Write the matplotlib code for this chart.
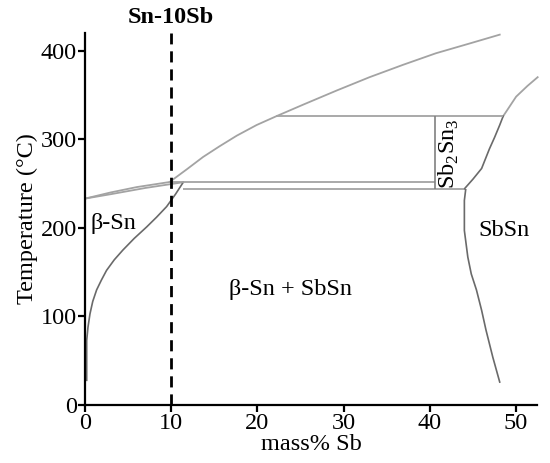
import matplotlib
matplotlib.use('Agg')
import matplotlib.pyplot as plt

plt.rcParams['font.family'] = ['Liberation Serif', 'DejaVu Serif']
plt.rcParams['mathtext.fontset'] = 'custom'
plt.rcParams['mathtext.rm'] = 'Liberation Serif'

# phase boundaries (mass% Sb, temperature in C)
sn_liq_x = [0, 3, 6, 10]
sn_liq_t = [233, 240, 246, 252]
sn_sol_x = [0, 3, 7, 11.4]
sn_sol_t = [233, 238, 245, 251.5]

liq_x = [9.85, 11.8, 13.7, 15.6, 17.6, 19.9, 22.2, 25.3, 29.2, 33.0,
         36.9, 40.7, 44.6, 48.1]
liq_t = [252, 266, 280, 292, 304, 316, 326, 339, 355, 370,
         384, 397, 408, 418]

sb_liq_x = [48.5, 50.0, 51.3, 52.5]
sb_liq_t = [326, 348, 360, 370]

sbsn_top_x = [48.5, 48.1, 47.5, 46.9, 46.0, 45.0, 44.0]
sbsn_top_t = [326, 316, 302, 289, 267, 255, 244]

sbsn_solvus_x = [44.15, 44.0, 44.0, 44.4, 44.8, 45.4, 46.0, 46.5, 47.3, 48.1]
sbsn_solvus_t = [243, 231, 197, 167, 148, 130, 107, 85, 54, 26]

beta_solvus_x = [0.2, 0.2, 0.35, 0.58, 0.9, 1.35, 1.9, 2.5, 3.4, 4.4,
                 5.7, 7.15, 8.3, 9.47, 10.5, 11.4]
beta_solvus_t = [28, 73, 88, 103, 117, 130, 141, 152, 164, 175,
                 188, 201, 212, 224, 238, 251.5]

# isotherms: (temperature, x start, x end)
isotherms = [(252, 9.85, 40.6), (243.5, 11.4, 44.0), (326, 22.2, 48.5)]
sb2sn3_x = 40.6
sb2sn3_t = (243.5, 326)

alloy_x = 10

light = '#a3a3a3'
dark = '#6a6a6a'
fs = 17.5

fig = plt.figure(figsize=(5.5, 4.63), dpi=100)
ax = fig.add_subplot(111)
fig.subplots_adjust(left=0.1545, right=0.976, bottom=0.125, top=0.929)

ax.plot(sn_liq_x, sn_liq_t, color=light, lw=1.3)
ax.plot(sn_sol_x, sn_sol_t, color=light, lw=1.3)
ax.plot(liq_x, liq_t, color=light, lw=1.3)
ax.plot(sb_liq_x, sb_liq_t, color=light, lw=1.3, clip_on=False)
ax.plot(sbsn_top_x, sbsn_top_t, color=dark, lw=1.2)
ax.plot(sbsn_solvus_x, sbsn_solvus_t, color=dark, lw=1.2)
ax.plot(beta_solvus_x, beta_solvus_t, color=dark, lw=1.2)
for t, x0, x1 in isotherms:
    ax.hlines(t, x0, x1, color=light, lw=1.3)
ax.vlines(sb2sn3_x, sb2sn3_t[0], sb2sn3_t[1], color='#808080', lw=1.2)

ax.axvline(alloy_x, color='black', lw=2, ls=(0, (4, 2.5)), clip_on=False)

ax.text(0.6, 205, 'β-Sn', fontsize=fs, va='center', ha='left')
ax.text(23.8, 130, 'β-Sn + SbSn', fontsize=fs, va='center', ha='center')
ax.text(48.6, 197, 'SbSn', fontsize=fs, va='center', ha='center')
ax.text(42.2, 284, 'Sb$_2$Sn$_3$', fontsize=fs, va='center', ha='center',
        rotation=90)
ax.text(alloy_x, 1.012, 'Sn-10Sb', transform=ax.get_xaxis_transform(),
        fontsize=fs, fontweight='bold', ha='center', va='bottom')

ax.set_xlim(0, 52.4)
ax.set_ylim(0, 420)
ax.set_xticks([0, 10, 20, 30, 40, 50])
ax.set_yticks([0, 100, 200, 300, 400])
ax.set_xlabel('mass% Sb', fontsize=fs, labelpad=0)
ax.set_ylabel('Temperature (°C)', fontsize=fs, labelpad=2)

ax.spines['top'].set_visible(False)
ax.spines['right'].set_visible(False)
for s in ('left', 'bottom'):
    ax.spines[s].set_linewidth(1.6)
ax.tick_params(labelsize=fs, width=1.6, length=5, direction='out', pad=1)

fig.savefig('out.png', dpi=100)
